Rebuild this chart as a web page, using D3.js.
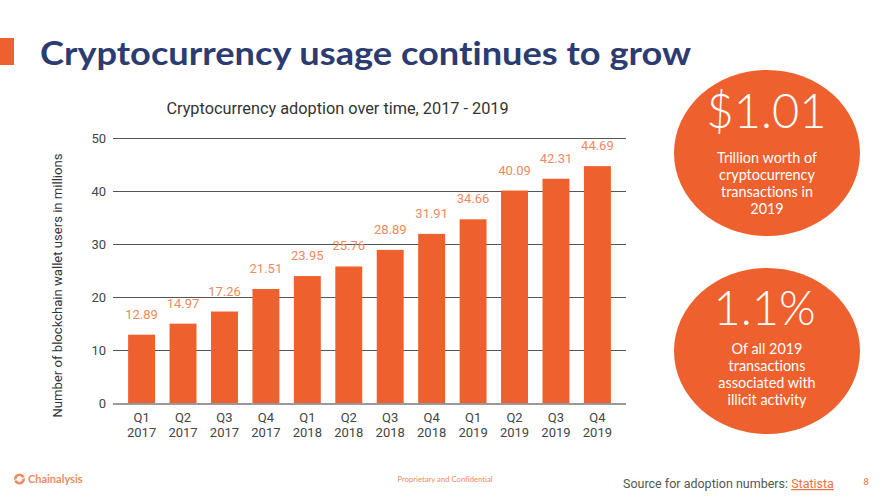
<!DOCTYPE html>
<html>
<head>
<meta charset="utf-8">
<style>
  html, body { margin: 0; padding: 0; background: #fff; }
  svg { display: block; }
  text { font-variant-ligatures: none !important; }
  .axis text { font: 13px Roboto, sans-serif; fill: #444; }
  .axis .domain { display: none; }
  .axis line { stroke: #555; stroke-width: 1; shape-rendering: crispEdges; }
</style>
</head>
<body>
<script src="https://d3js.org/d3.v7.min.js"></script>
<script>
var quarters = ["Q1", "Q2", "Q3", "Q4", "Q1", "Q2", "Q3", "Q4", "Q1", "Q2", "Q3", "Q4"];
var years = ["2017", "2017", "2017", "2017", "2018", "2018", "2018", "2018", "2019", "2019", "2019", "2019"];
var users = [12.89, 14.97, 17.26, 21.51, 23.95, 25.76, 28.89, 31.91, 34.66, 40.09, 42.31, 44.69];
var yTicks = [0, 10, 20, 30, 40, 50];
var bubble1Lines = ["Trillion worth of", "cryptocurrency", "transactions in", "2019"];
var bubble2Lines = ["Of all 2019", "transactions", "associated with", "illicit activity"];

var orange = "#ee602d", navy = "#2d3c70", paleOrange = "#ee8a63";
var ids = d3.range(users.length);

var svg = d3.select("body").append("svg").attr("width", 888).attr("height", 500);

// slide header
svg.append("rect").attr("x", 0).attr("y", 38).attr("width", 14).attr("height", 27).attr("fill", orange);
svg.append("text").attr("x", 40).attr("y", 65)
    .attr("textLength", 651).attr("lengthAdjust", "spacingAndGlyphs")
    .style("font", "700 33px Lato, sans-serif").attr("fill", navy)
    .text("Cryptocurrency usage continues to grow");

svg.append("text").attr("x", 337.5).attr("y", 114).attr("text-anchor", "middle")
    .style("font", "16.3px Roboto, sans-serif").attr("fill", "#333")
    .text("Cryptocurrency adoption over time, 2017 - 2019");

// scales
var x = d3.scaleBand().domain(ids).range([113, 626]).paddingInner(0.35).paddingOuter(0.365);
var y = d3.scaleLinear().domain([0, 50]).range([403, 138]);

// y axis with gridlines
var yAxis = svg.append("g").attr("class", "axis")
    .attr("transform", "translate(113,0)")
    .call(d3.axisLeft(y).tickValues(yTicks).tickSize(-513).tickPadding(7));
yAxis.selectAll(".tick").filter(function(d) { return d === 0; }).select("line")
    .style("stroke", "#999").style("stroke-width", 2);

svg.append("text")
    .attr("transform", "translate(62,285.5) rotate(-90)")
    .attr("text-anchor", "middle")
    .style("font", "13.1px Roboto, sans-serif").attr("fill", "#333")
    .text("Number of blockchain wallet users in millions");

// bars
svg.selectAll(".bar").data(users).enter().append("rect")
    .attr("class", "bar")
    .attr("x", function(d, i) { return x(i); })
    .attr("width", x.bandwidth())
    .attr("y", function(d) { return y(d); })
    .attr("height", function(d) { return y(0) - y(d); })
    .attr("fill", orange);

// value labels
svg.selectAll(".val").data(users).enter().append("text")
    .attr("class", "val")
    .attr("x", function(d, i) { return x(i) + x.bandwidth() / 2; })
    .attr("y", function(d) { return y(d) - 16; })
    .attr("text-anchor", "middle")
    .style("font", "13px Roboto, sans-serif")
    .attr("fill", paleOrange)
    .text(function(d) { return d.toFixed(2); });

// category labels
var cats = svg.selectAll(".cat").data(ids).enter().append("text")
    .attr("class", "cat")
    .attr("text-anchor", "middle")
    .style("font", "13px Roboto, sans-serif")
    .attr("fill", "#444");
cats.append("tspan")
    .attr("x", function(i) { return x(i) + x.bandwidth() / 2; })
    .attr("y", 422)
    .text(function(i) { return quarters[i]; });
cats.append("tspan")
    .attr("x", function(i) { return x(i) + x.bandwidth() / 2; })
    .attr("y", 437)
    .text(function(i) { return years[i]; });

// callout bubbles
function bubble(cy, big, bigX, bigY, lines, firstY) {
    svg.append("ellipse").attr("cx", 767).attr("cy", cy).attr("rx", 93).attr("ry", 83).attr("fill", orange);
    svg.append("text").attr("x", bigX).attr("y", bigY).attr("text-anchor", "middle")
        .style("font", "300 47px Lato, sans-serif").attr("fill", "#fff").text(big);
    svg.selectAll(null).data(lines).enter().append("text")
        .attr("x", 767)
        .attr("y", function(d, i) { return firstY + i * 17; })
        .attr("text-anchor", "middle")
        .style("font", "14.4px Lato, sans-serif")
        .attr("fill", "#fff")
        .text(function(d) { return d; });
}
bubble(153, "$1.01", 766.5, 128, bubble1Lines, 163);
bubble(351, "1.1%", 764.5, 325, bubble2Lines, 354);

// footer
var logo = svg.append("g").attr("transform", "translate(19.5,479)");
logo.append("circle").attr("r", 4.2).attr("fill", "none").attr("stroke", paleOrange).attr("stroke-width", 2.6);
logo.append("path").attr("d", "M-6,1.5L6,-1.5").attr("stroke", "#fff").attr("stroke-width", 1.1);
svg.append("text").attr("x", 28).attr("y", 483)
    .style("font", "700 11px Lato, sans-serif").attr("fill", paleOrange).text("Chainalysis");
svg.append("text").attr("x", 445).attr("y", 482).attr("text-anchor", "middle")
    .style("font", "7.7px Lato, sans-serif").attr("fill", paleOrange).text("Proprietary and Confidential");

var source = svg.append("text").attr("x", 623).attr("y", 488)
    .style("font", "12.5px Roboto, sans-serif").attr("fill", "#555");
source.append("tspan").text("Source for adoption numbers: ");
source.append("tspan").attr("fill", "#ee7040").attr("text-decoration", "underline").text("Statista");

svg.append("text").attr("x", 866).attr("y", 485).attr("text-anchor", "middle")
    .style("font", "700 9px Lato, sans-serif").attr("fill", paleOrange).text("8");
</script>
</body>
</html>
